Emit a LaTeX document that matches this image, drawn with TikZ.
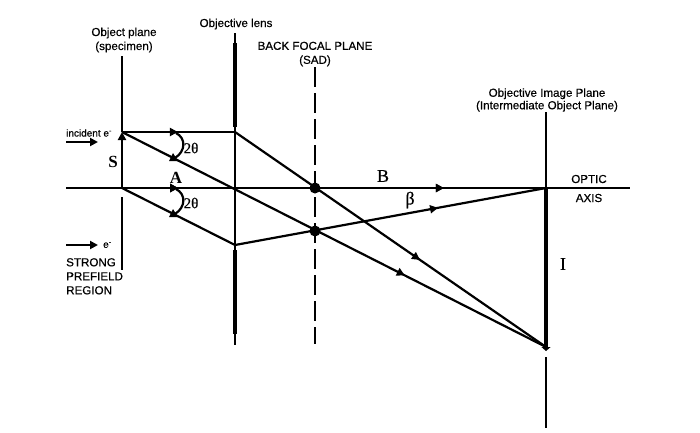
\documentclass[tikz,border=0pt]{standalone}
\usepackage{fontspec}
\setmainfont{Liberation Serif}
\newfontfamily\tagfont[FakeBold=0.4]{Liberation Sans}
\newfontfamily\symfont[FakeBold=0.6]{Liberation Serif}
\usepackage{tikz}
\usetikzlibrary{arrows.meta,decorations.markings,positioning}

\tikzset{
  ray/.style={line width=2.2pt},
  tipat/.style={postaction={decorate},decoration={markings,mark=at position #1 with {\arrow{Triangle[length=8pt,width=8pt]}}}},
  plane/.style={line width=2pt},
  lensbar/.style={line width=4pt},
  focal/.style={line width=2pt,dash pattern=on 20pt off 6pt},
  spot/.style={circle,fill=black,inner sep=0pt,minimum size=11pt},
  tag/.style={font=\tagfont\fontsize{11.6}{14}\selectfont,align=center,inner sep=0pt},
  sym/.style={font=\symfont\fontsize{18}{18}\selectfont,inner sep=0pt}
}

\begin{document}
\begin{tikzpicture}[x=1pt,y=-1pt]
\useasboundingbox (0,0) rectangle (700,432);
\fill[white] (0,0) rectangle (700,432);

% Points on the planes
\coordinate (objtop) at (122,132);
\coordinate (objmid) at (122,188);
\coordinate (lenstop) at (235,132);
\coordinate (lensbot) at (235,245);
\coordinate (imgmid) at (546,188);
\coordinate (imgtip) at (546,347);
\coordinate (axisleft) at (66,188);
\coordinate (axisright) at (630,188);
\node[spot] (focusB) at (315,188) {};
\node[spot] (focusb) at (315,231) {};

% Planes
\draw[plane] (122,56) coordinate (objA) -- (objtop);
\draw[plane] (122,197) coordinate (objB) -- (122,270) coordinate (objC);
\draw[plane] (235,33) coordinate (lensA) -- (235,345) coordinate (lensB);
\draw[lensbar] (235,43) coordinate (barA) -- (235,127) coordinate (barB);
\draw[lensbar] (235,250) coordinate (barC) -- (235,334) coordinate (barD);
\draw[focal] (315,67) coordinate (focalA) -- (315,344) coordinate (focalB);
\draw[plane] (546,112) coordinate (imgA) -- (imgmid);
\draw[plane] (546,357) coordinate (imgB) -- (546,428) coordinate (imgC);
\draw[lensbar,-{Triangle[length=4pt,width=9pt]}] (imgmid) -- (546,351) coordinate (imgend);

% Rays
\draw[ray,tipat=.199,tipat=.67] (axisleft) -- (axisright);
\draw[ray,-{Triangle[length=8pt,width=8pt]}] (objmid) -- (objtop);
\draw[ray,tipat=.495] (objtop) -- (lenstop);
\draw[ray,tipat=.595] (lenstop) -- (imgtip);
\draw[ray,tipat=.667] (objtop) -- (imgtip);
\draw[ray] (objmid) -- (lensbot);
\draw[ray,tipat=.653] (lensbot) -- (imgmid);

% Angles
\coordinate (arcA) at (176,133);
\coordinate (arcB) at (175,158);
\coordinate (arcC) at (176,189);
\coordinate (arcD) at (175,214);
\draw[ray] (arcA) .. controls (186,138) and (186,151) .. (arcB);
\draw[ray] (arcC) .. controls (186,194) and (186,207) .. (arcD);
\fill (169,161) -- (173,153) -- (178,161) -- cycle;
\fill (169,217) -- (173,209) -- (178,217) -- cycle;

% Incident arrows
\coordinate (incA) at (66,142);
\coordinate (incB) at (98,142);
\coordinate (preA) at (66,245);
\coordinate (preB) at (98,245);
\draw[ray,-{Triangle[length=8pt,width=8pt]}] (incA) -- (incB);
\draw[ray,-{Triangle[length=8pt,width=8pt]}] (preA) -- (preB);

% Labels
\node[tag] (objlabel) at (124,40) {Object plane\\(specimen)};
\node[tag] (lenslabel) at (236,24) {Objective lens};
\node[tag] (focallabel) at (315,54) {BACK FOCAL PLANE\\(SAD)};
\node[tag] (imglabel) at (547,100) {Objective Image Plane\\[-1.5pt](Intermediate Object Plane)};
\node[tag] (optic) at (589,179) {OPTIC};
\node[tag] (axis) at (589,198) {AXIS};
\node[tag,font=\tagfont\fontsize{10}{12}\selectfont,anchor=west] (incident) at (66,133) {incident e\textsuperscript{-}};
\node[tag,font=\tagfont\fontsize{10}{12}\selectfont,anchor=west] (elec) at (103,245) {e\textsuperscript{-}};
\node[tag,align=left,anchor=north west] (prefield) at (66,258) {STRONG\\PREFIELD\\REGION};
\node[sym,font=\bfseries\fontsize{17}{17}\selectfont] (sizeS) at (113,162) {S};
\node[sym,font=\bfseries\fontsize{17}{17}\selectfont] (sizeA) at (176,178) {A};
\node[sym] (sizeB) at (383,176) {B};
\node[sym] (beta) at (410,200) {β};
\node[sym] (sizeI) at (563,264) {I};
\node[sym,font=\symfont\fontsize{15}{15}\selectfont] (angleA) at (191,148) {2θ};
\node[sym,font=\symfont\fontsize{15}{15}\selectfont] (angleB) at (191,203) {2θ};
\end{tikzpicture}
\end{document}
